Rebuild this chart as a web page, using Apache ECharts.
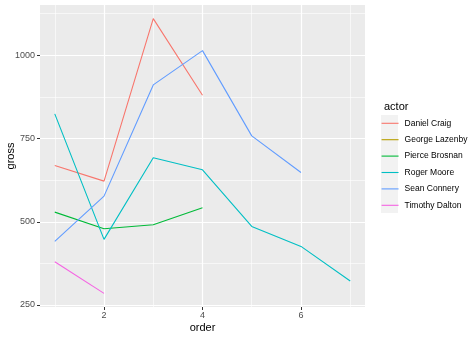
<!DOCTYPE html>
<html>
<head>
<meta charset="utf-8">
<script src="https://cdn.jsdelivr.net/npm/echarts@6/dist/echarts.min.js"></script>
<style>
  html, body { margin: 0; padding: 0; background: #fff; }
  #main { width: 474px; height: 338px; }
</style>
</head>
<body>
<div id="main"></div>
<script>
// 数据
var actors = ['Daniel Craig', 'George Lazenby', 'Pierce Brosnan', 'Roger Moore', 'Sean Connery', 'Timothy Dalton'];
var danielCraig = [669, 622, 1110, 880];
var georgeLazenby = [505];
var pierceBrosnan = [529, 479, 491, 542];
var rogerMoore = [824, 447, 692, 656, 486, 426, 322];
var seanConnery = [441, 577, 911, 1014, 758, 648];
var timothyDalton = [380, 285];

var xTicks = [2, 4, 6];
var xMinor = [1, 3, 5, 7];
var yTicks = [250, 500, 750, 1000];
var yMinor = [375, 625, 875, 1125];

var colors = ['#F8766D', '#B79F00', '#00BA38', '#00BFC4', '#619CFF', '#F564E3'];
var values = [danielCraig, georgeLazenby, pierceBrosnan, rogerMoore, seanConnery, timothyDalton];

var font = '"Liberation Sans", Arial, sans-serif';

function toPoints(arr) {
  return arr.map(function (v, i) { return [i + 1, v]; });
}

// 网格线（白色）
var gridLines = [];
xMinor.forEach(function (v) { gridLines.push({ xAxis: v, lineStyle: { width: 0.6 } }); });
xTicks.forEach(function (v) { gridLines.push({ xAxis: v, lineStyle: { width: 1.2 } }); });
yMinor.forEach(function (v) { gridLines.push({ yAxis: v, lineStyle: { width: 0.6 } }); });
yTicks.forEach(function (v) { gridLines.push({ yAxis: v, lineStyle: { width: 1.2 } }); });

var series = [{
  name: 'grid',
  type: 'line',
  data: [],
  z: 1,
  silent: true,
  markLine: {
    z: 1,
    silent: true,
    symbol: 'none',
    label: { show: false },
    lineStyle: { color: '#ffffff', type: 'solid' },
    data: gridLines
  }
}];

actors.forEach(function (name, i) {
  series.push({
    name: name,
    type: 'line',
    data: toPoints(values[i]),
    symbol: 'none',
    z: 3,
    itemStyle: { color: colors[i] },
    lineStyle: { color: colors[i], width: 1.1 }
  });
});

var myChart = echarts.init(document.getElementById('main'));
myChart.setOption({
  animation: false,
  backgroundColor: '#ffffff',
  title: {
    text: 'actor',
    left: 379,
    top: 96,
    textStyle: { fontFamily: font, fontSize: 11, fontWeight: 'normal', color: '#000' }
  },
  graphic: [{
    type: 'rect',
    left: 381,
    top: 115,
    z: 0,
    shape: { width: 17, height: 98 },
    style: { fill: '#F2F2F2' },
    silent: true
  }],
  legend: {
    data: actors,
    orient: 'vertical',
    left: 381,
    top: 118.8,
    itemWidth: 17,
    itemHeight: 9,
    itemGap: 7.4,
    padding: 0,
    itemStyle: { opacity: 0 },
    lineStyle: { width: 1.1 },
    textStyle: { fontFamily: font, fontSize: 8.5, color: '#000', padding: [0, 0, 0, 1] }
  },
  grid: {
    left: 40,
    right: 109,
    top: 5,
    bottom: 31,
    show: true,
    backgroundColor: '#EBEBEB',
    borderWidth: 0,
    containLabel: false,
    outerBoundsMode: 'none'
  },
  xAxis: {
    type: 'value',
    min: 0.7,
    max: 7.3,
    name: 'order',
    nameLocation: 'middle',
    nameGap: 15,
    nameMoveOverlap: false,
    nameTextStyle: { fontFamily: font, fontSize: 11, color: '#000' },
    axisLine: { show: false },
    axisTick: { show: true, length: 3, customValues: xTicks, lineStyle: { color: '#333' } },
    axisLabel: { customValues: xTicks, fontFamily: font, fontSize: 9, color: '#4D4D4D', margin: 4 },
    splitLine: { show: false }
  },
  yAxis: {
    type: 'value',
    min: 244,
    max: 1151,
    name: 'gross',
    nameLocation: 'middle',
    nameGap: 24,
    nameMoveOverlap: false,
    nameTextStyle: { fontFamily: font, fontSize: 11, color: '#000' },
    axisLine: { show: false },
    axisTick: { show: true, length: 3, customValues: yTicks, lineStyle: { color: '#333' } },
    axisLabel: {
      customValues: yTicks, fontFamily: font, fontSize: 9, color: '#4D4D4D', margin: 5,
      formatter: function (v) { return String(v); }
    },
    splitLine: { show: false }
  },
  series: series
});
</script>
</body>
</html>
